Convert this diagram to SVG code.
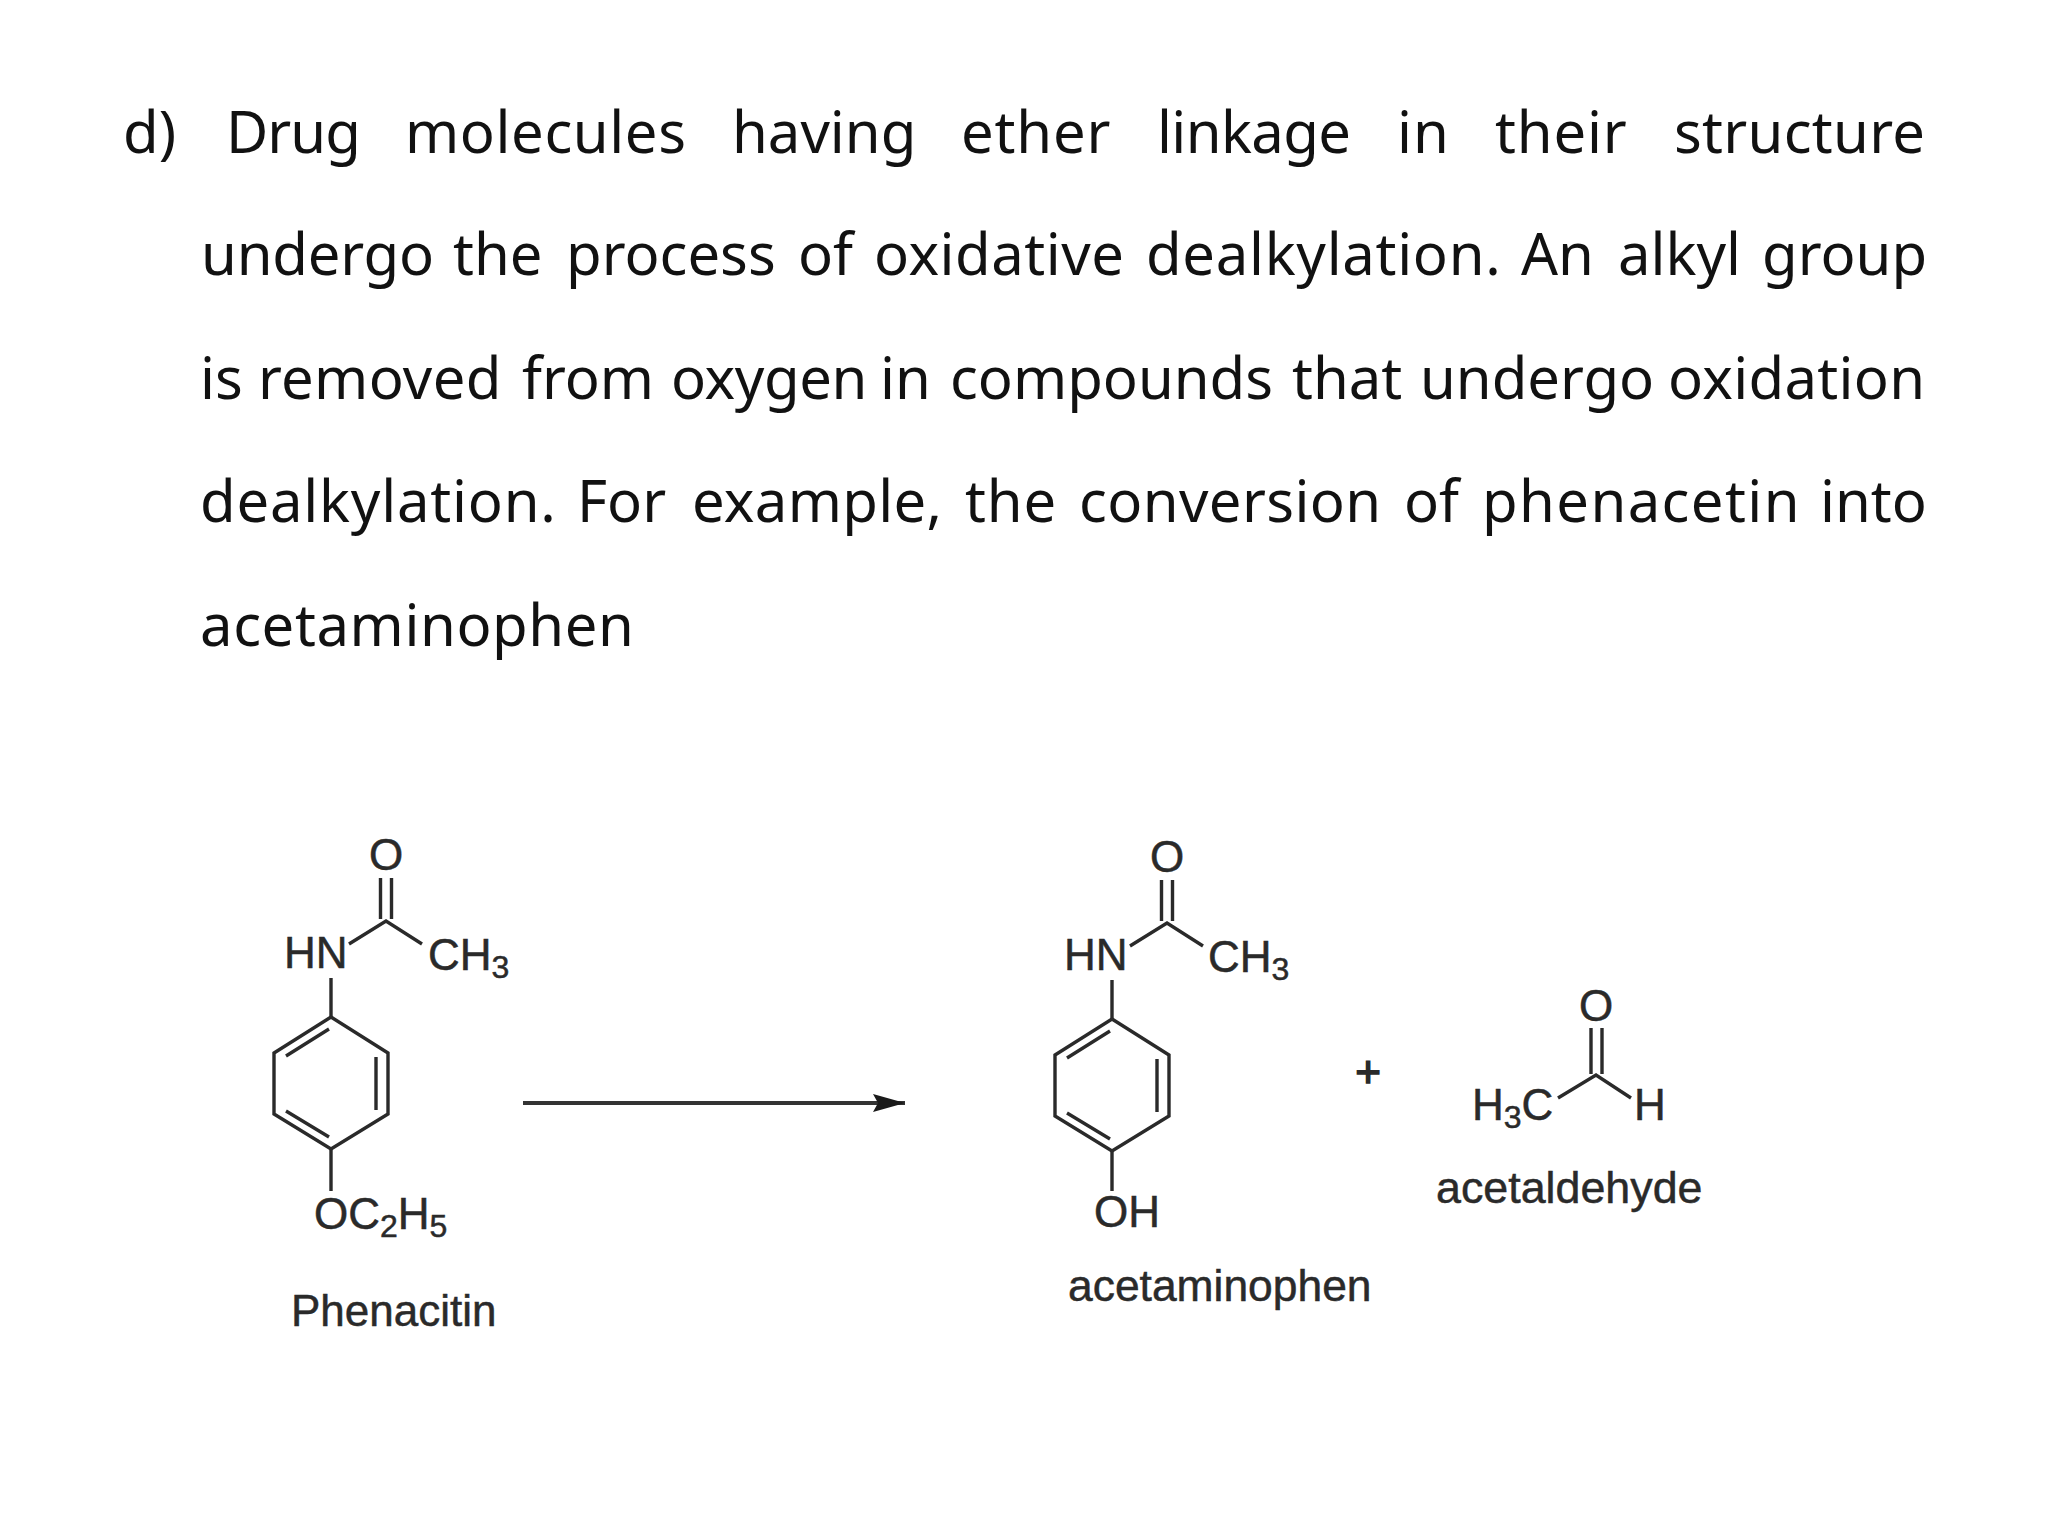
<svg xmlns="http://www.w3.org/2000/svg" width="2048" height="1536" viewBox="0 0 2048 1536">
<defs>
<style>
.body{font-family:"Noto Sans","Open Sans",sans-serif;font-size:58px;fill:#111}
.chem{font-family:"Liberation Sans",Arial,sans-serif;font-size:44px;fill:#2a2a2a;stroke:#2a2a2a;stroke-width:.5}
.bond{fill:none;stroke:#2a2a2a;stroke-width:3.4;stroke-linecap:butt;stroke-linejoin:miter}
.sub{font-size:32px}
</style>
<marker id="head" markerUnits="userSpaceOnUse" markerWidth="36" markerHeight="24" refX="32" refY="12" orient="auto"><path d="M0 3L32 12L0 21L5 12Z" fill="#1a1a1a"/></marker>
<g id="benzene">
<path class="bond" d="M0 0L57 36V97L0 132L-57 97V36Z"/>
<path class="bond" d="M-45 39L-2 12M45 40V93M-45 94L-2 120"/>
</g>
</defs>
<rect width="2048" height="1536" fill="#fff"/>
<g id="paragraph" class="body">
<text y="153"><tspan x="123">d)</tspan> <tspan x="226" letter-spacing="-1">Drug</tspan> <tspan x="405" letter-spacing=".6">molecules</tspan> <tspan x="732">having</tspan> <tspan x="961" letter-spacing=".8">ether</tspan> <tspan x="1157" letter-spacing="-.6">linkage</tspan> <tspan x="1397" letter-spacing="1">in</tspan> <tspan x="1495" letter-spacing=".8">their</tspan> <tspan x="1674" letter-spacing=".3">structure</tspan></text>
<text y="275"><tspan x="201" letter-spacing="-.2">undergo</tspan> <tspan x="453">the</tspan> <tspan x="566">process</tspan> <tspan x="798">of</tspan> <tspan x="874" letter-spacing=".5">oxidative</tspan> <tspan x="1146" letter-spacing=".7">dealkylation.</tspan> <tspan x="1521">An</tspan> <tspan x="1618">alkyl</tspan> <tspan x="1762">group</tspan></text>
<text y="399"><tspan x="200">is</tspan> <tspan x="258" letter-spacing=".3">removed</tspan> <tspan x="522">from</tspan> <tspan x="671" letter-spacing="-.4">oxygen</tspan> <tspan x="880">in</tspan> <tspan x="950">compounds</tspan> <tspan x="1292">that</tspan> <tspan x="1420">undergo</tspan> <tspan x="1668" letter-spacing=".3">oxidation</tspan></text>
<text y="522"><tspan x="200" letter-spacing=".8">dealkylation.</tspan> <tspan x="577">For</tspan> <tspan x="692" letter-spacing=".3">example,</tspan> <tspan x="965" letter-spacing=".8">the</tspan> <tspan x="1079" letter-spacing=".4">conversion</tspan> <tspan x="1404">of</tspan> <tspan x="1482" letter-spacing="1.4">phenacetin</tspan> <tspan x="1820">into</tspan></text>
<text y="646" x="200" letter-spacing=".6">acetaminophen</text>
</g>
<g id="connectors">
<path class="bond" d="M380.500 878V919M391.500 878V919M349 944L386 921L422 944M331 978V1017M331 1149V1191"/>
<use href="#benzene" x="331" y="1017"/>
<path class="bond" d="M1161.500 880V921M1172.500 880V921M1130 946L1167 923L1203 946M1112 980V1019M1112 1151V1191"/>
<use href="#benzene" x="1112" y="1019"/>
<path class="bond" d="M1591 1028V1074M1602 1028V1074M1558 1098L1596 1075L1631 1098"/>
<line x1="523" y1="1103" x2="905" y2="1103" stroke="#333" stroke-width="4" marker-end="url(#head)"/>
</g>
<g id="phenacitin" class="chem">
<text x="386" y="870" text-anchor="middle">O</text>
<text x="284" y="968">HN</text>
<text x="428" y="970">CH<tspan class="sub" dy="8">3</tspan></text>
<text x="314" y="1229">OC<tspan class="sub" dy="8">2</tspan><tspan dy="-8">H</tspan><tspan class="sub" dy="8">5</tspan></text>
<text x="291" y="1326">Phenacitin</text>
</g>
<g id="acetaminophen" class="chem">
<text x="1167" y="872" text-anchor="middle">O</text>
<text x="1064" y="970">HN</text>
<text x="1208" y="972">CH<tspan class="sub" dy="8">3</tspan></text>
<text x="1094" y="1227">OH</text>
<text x="1068" y="1301" font-size="44.4">acetaminophen</text>
</g>
<g id="plus" class="chem"><text x="1368" y="1087" text-anchor="middle" stroke-width="1.5">+</text></g>
<g id="acetaldehyde" class="chem">
<text x="1596" y="1021" text-anchor="middle">O</text>
<text x="1472" y="1120">H<tspan class="sub" dy="8">3</tspan><tspan dy="-8">C</tspan></text>
<text x="1634" y="1120">H</text>
<text x="1436" y="1203" font-size="44.8">acetaldehyde</text>
</g>
</svg>
